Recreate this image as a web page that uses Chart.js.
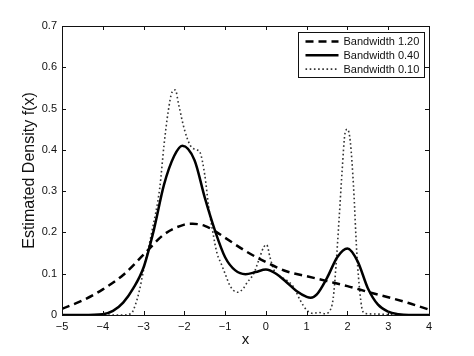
<!DOCTYPE html>
<html>
<head>
<meta charset="utf-8">
<script src="https://cdn.jsdelivr.net/npm/chart.js@4/dist/chart.umd.min.js"></script>
<style>
  html, body { margin: 0; padding: 0; background: #fff; }
  #wrap { width: 474px; height: 356px; }
</style>
</head>
<body>
<div id="wrap"><canvas id="c" width="474" height="356"></canvas></div>
<script>
// ---- data ----
const seriesLabels = ['Bandwidth 1.20', 'Bandwidth 0.40', 'Bandwidth 0.10'];

const bw120X = [-5, -4.5, -4, -3.5, -3, -2.5, -2, -1.8, -1.5, -1.2, -1, -0.5, 0, 0.5, 1, 1.5, 2, 2.5, 3, 3.5, 4];
const bw120Y = [0.015, 0.035, 0.062, 0.097, 0.146, 0.195, 0.219, 0.221, 0.216, 0.2, 0.187, 0.155, 0.128, 0.106, 0.094, 0.082, 0.07, 0.056, 0.043, 0.029, 0.013];

const bw040X = [-5, -4.5, -4, -3.75, -3.5, -3.25, -3, -2.75, -2.5, -2.25, -2.05, -1.75, -1.5, -1.25, -1, -0.75, -0.5, -0.25, 0, 0.25, 0.5, 0.75, 1, 1.1, 1.25, 1.5, 1.75, 2, 2.25, 2.5, 2.75, 3, 3.25, 3.5, 4];
const bw040Y = [0, 0, 0.002, 0.01, 0.03, 0.065, 0.115, 0.205, 0.315, 0.385, 0.41, 0.375, 0.285, 0.205, 0.14, 0.108, 0.099, 0.104, 0.11, 0.1, 0.08, 0.058, 0.044, 0.042, 0.05, 0.09, 0.14, 0.161, 0.13, 0.065, 0.025, 0.008, 0.002, 0, 0];

const bw010X = [-5, -3.5, -3.3, -3.2, -3.1, -3.0, -2.8, -2.6, -2.5, -2.4, -2.3, -2.22, -2.14, -2.0, -1.85, -1.7, -1.62, -1.5, -1.4, -1.3, -1.2, -1.1, -1.0, -0.9, -0.8, -0.68, -0.55, -0.45, -0.3, -0.15, -0.05, 0.02, 0.1, 0.2, 0.35, 0.5, 0.68, 0.84, 1.0, 1.15, 1.3, 1.45, 1.55, 1.65, 1.72, 1.8, 1.87, 1.94, 2.0, 2.07, 2.15, 2.23, 2.31, 2.38, 2.5, 2.8, 3.0, 3.2, 4];
const bw010Y = [0, 0, 0.004, 0.025, 0.06, 0.109, 0.2, 0.31, 0.41, 0.49, 0.54, 0.545, 0.51, 0.45, 0.41, 0.4, 0.395, 0.34, 0.26, 0.2, 0.15, 0.125, 0.1, 0.075, 0.06, 0.055, 0.065, 0.08, 0.1, 0.14, 0.165, 0.17, 0.14, 0.108, 0.093, 0.085, 0.068, 0.036, 0.012, 0.004, 0.006, 0.003, 0.008, 0.04, 0.12, 0.24, 0.35, 0.44, 0.45, 0.42, 0.31, 0.15, 0.05, 0.008, 0.003, 0.002, 0.001, 0, 0];

const xTickValues = [-5, -4, -3, -2, -1, 0, 1, 2, 3, 4];
const xTickLabels = ['\u22125', '\u22124', '\u22123', '\u22122', '\u22121', '0', '1', '2', '3', '4'];
const yTickValues = [0, 0.1, 0.2, 0.3, 0.4, 0.5, 0.6, 0.7];
const yTickLabels = ['0', '0.1', '0.2', '0.3', '0.4', '0.5', '0.6', '0.7'];

const xTitle = 'x';
const yTitle = 'Estimated Density f(x)';

// ---- build ----
function pts(xs, ys) { return xs.map((x, i) => ({ x: x, y: ys[i] })); }

const FONT = '"Liberation Sans", Arial, Helvetica, sans-serif';
const INK = '#111';

const frameAndLegend = {
  id: 'frameAndLegend',
  afterDatasetsDraw(chart) {
    const ctx = chart.ctx;
    const a = chart.chartArea;
    const xs = chart.scales.x, ys = chart.scales.y;
    ctx.save();
    ctx.strokeStyle = INK;
    ctx.lineWidth = 1;
    ctx.setLineDash([]);
    ctx.strokeRect(Math.round(a.left) + 0.5, Math.round(a.top) + 0.5,
                   Math.round(a.right - a.left), Math.round(a.bottom - a.top));
    const tl = 4;
    ctx.beginPath();
    xTickValues.forEach(v => {
      const px = Math.round(xs.getPixelForValue(v)) + 0.5;
      ctx.moveTo(px, a.bottom); ctx.lineTo(px, a.bottom - tl);
      ctx.moveTo(px, a.top); ctx.lineTo(px, a.top + tl);
    });
    yTickValues.forEach(v => {
      const py = Math.round(ys.getPixelForValue(v)) + 0.5;
      ctx.moveTo(a.left, py); ctx.lineTo(a.left + tl, py);
      ctx.moveTo(a.right, py); ctx.lineTo(a.right - tl, py);
    });
    ctx.stroke();

    // legend box
    const lw = 126, lh = 45;
    const lx = Math.round(a.right - 5 - lw) + 0.5;
    const ly = Math.round(a.top + 6) + 0.5;
    ctx.fillStyle = '#fff';
    ctx.fillRect(lx, ly, lw, lh);
    ctx.strokeStyle = INK;
    ctx.lineWidth = 1;
    ctx.strokeRect(lx, ly, lw, lh);
    ctx.font = '11px ' + FONT;
    ctx.textBaseline = 'middle';
    ctx.textAlign = 'left';
    chart.data.datasets.forEach((ds, i) => {
      const y = ly + 9 + i * 13.8;
      ctx.save();
      ctx.strokeStyle = ds.borderColor;
      ctx.lineWidth = ds.borderWidth;
      ctx.setLineDash(ds.borderDash || []);
      ctx.beginPath();
      ctx.moveTo(lx + 7, y);
      ctx.lineTo(lx + 40, y);
      ctx.stroke();
      ctx.restore();
      ctx.fillStyle = INK;
      ctx.fillText(ds.label, lx + 45, y + 0.5);
    });
    ctx.restore();
  }
};

new Chart(document.getElementById('c'), {
  type: 'line',
  data: {
    datasets: [
      { label: seriesLabels[0], data: pts(bw120X, bw120Y), borderColor: '#000', borderWidth: 2.5, borderDash: [8, 5], pointRadius: 0, fill: false, cubicInterpolationMode: 'monotone' },
      { label: seriesLabels[1], data: pts(bw040X, bw040Y), borderColor: '#000', borderWidth: 2.5, pointRadius: 0, fill: false, cubicInterpolationMode: 'monotone' },
      { label: seriesLabels[2], data: pts(bw010X, bw010Y), borderColor: '#333', borderWidth: 1.6, borderDash: [1.6, 2.6], pointRadius: 0, fill: false, cubicInterpolationMode: 'monotone' }
    ]
  },
  options: {
    responsive: false,
    animation: false,
    events: [],
    layout: { padding: { left: 0, top: 26, right: 45, bottom: 0 } },
    plugins: { legend: { display: false }, tooltip: { enabled: false }, title: { display: false } },
    scales: {
      x: {
        type: 'linear', min: -5, max: 4,
        afterFit(s) { s.height = 41; },
        afterBuildTicks(s) { s.ticks = xTickValues.map(v => ({ value: v })); },
        grid: { display: false, drawTicks: false }, border: { display: false },
        ticks: { padding: 5, color: INK, font: { family: FONT, size: 11 }, maxRotation: 0, autoSkip: false,
                 callback: (v) => xTickLabels[xTickValues.indexOf(v)] },
        title: { display: true, text: xTitle, color: INK, font: { family: FONT, size: 15 }, padding: { top: 0, bottom: 7 } }
      },
      y: {
        type: 'linear', min: 0, max: 0.7,
        afterFit(s) { s.width = 62; },
        afterBuildTicks(s) { s.ticks = yTickValues.map(v => ({ value: v })); },
        grid: { display: false, drawTicks: false }, border: { display: false },
        ticks: { padding: 5, color: INK, font: { family: FONT, size: 11 }, autoSkip: false,
                 callback: (v) => yTickLabels[yTickValues.indexOf(v)] },
        title: { display: true, text: yTitle, color: INK, font: { family: FONT, size: 16 }, padding: { top: 20, bottom: 0 } }
      }
    }
  },
  plugins: [frameAndLegend]
});
</script>
</body>
</html>
